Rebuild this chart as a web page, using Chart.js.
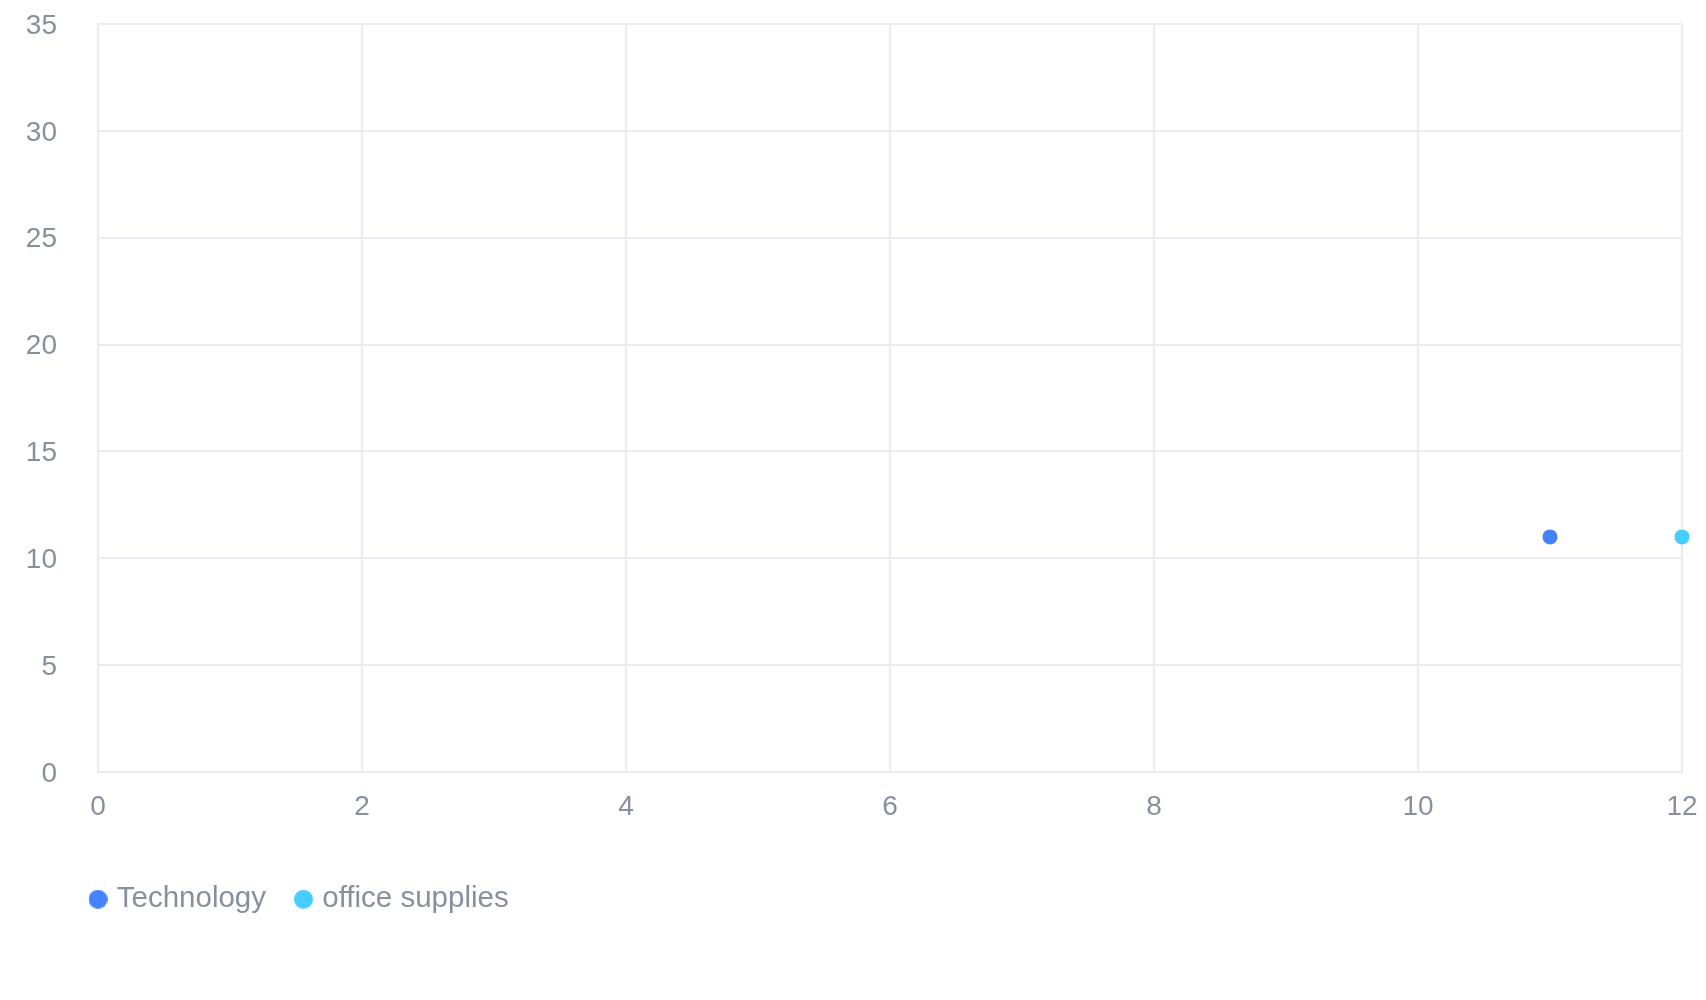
<!DOCTYPE html>
<html>
<head>
<meta charset="utf-8">
<title>Scatter</title>
<script src="https://cdn.jsdelivr.net/npm/chart.js@4/dist/chart.umd.min.js"></script>
<style>
    html, body { margin: 0; padding: 0; background: #ffffff; }
    #wrap { width: 1706px; height: 1000px; position: relative; }
</style>
</head>
<body>
<div id="wrap"><canvas id="scatterChart"></canvas></div>
<script>
// Series: [x, y] pairs
const seriesNames = ["Technology", "office supplies"];
const seriesColors = ["#4582FF", "#47CDFF"];
const technologyX = [11];
const technologyY = [11];
const officeX = [12];
const officeY = [11];

// Axis ranges / ticks
const xTicks = [0, 2, 4, 6, 8, 10, 12];
const yTicks = [0, 5, 10, 15, 20, 25, 30, 35];

const labelColor = "#89909D";
const gridColor = "#EBECF1";
const fontFamily = "'Liberation Sans', Arial, sans-serif";

function toPoints(xs, ys) {
    return xs.map((x, i) => ({ x: x, y: ys[i] }));
}

// Small round legend markers (drawn tighter to the text than the default box)
function dotCanvas(color) {
    const c = document.createElement("canvas");
    c.width = 19;
    c.height = 19;
    const g = c.getContext("2d");
    g.fillStyle = color;
    g.beginPath();
    g.arc(9.5, 9.5, 9.5, 0, Math.PI * 2);
    g.fill();
    return c;
}
const legendDots = seriesColors.map(dotCanvas);

// Legend sits in line with the plot's left edge, not the canvas edge
const legendShift = {
    id: "legendShift",
    afterLayout(chart) {
        if (chart.legend) {
            chart.legend.left += 60.5;
        }
    }
};

const ctx = document.getElementById("scatterChart").getContext("2d");
new Chart(ctx, {
    type: "scatter",
    data: {
        datasets: [
            {
                label: seriesNames[0],
                data: toPoints(technologyX, technologyY),
                backgroundColor: seriesColors[0],
                borderColor: seriesColors[0],
                borderWidth: 0,
                pointRadius: 7.5,
                pointHoverRadius: 7.5
            },
            {
                label: seriesNames[1],
                data: toPoints(officeX, officeY),
                backgroundColor: seriesColors[1],
                borderColor: seriesColors[1],
                borderWidth: 0,
                pointRadius: 7.5,
                pointHoverRadius: 7.5
            }
        ]
    },
    plugins: [legendShift],
    options: {
        responsive: true,
        maintainAspectRatio: false,
        animation: false,
        clip: false,
        layout: {
            padding: { top: 24, right: 24, bottom: 76, left: 0 }
        },
        plugins: {
            tooltip: { enabled: false },
            legend: {
                display: true,
                position: "bottom",
                align: "start",
                labels: {
                    usePointStyle: true,
                    pointStyleWidth: 8,
                    boxHeight: 13.4,
                    padding: 33.5,
                    color: labelColor,
                    font: { family: fontFamily, size: 29.5 },
                    generateLabels(chart) {
                        const items = Chart.defaults.plugins.legend.labels.generateLabels(chart);
                        items.forEach((item, i) => { item.pointStyle = legendDots[i]; });
                        return items;
                    }
                }
            }
        },
        scales: {
            x: {
                type: "linear",
                min: xTicks[0],
                max: xTicks[xTicks.length - 1],
                afterBuildTicks: (scale) => { scale.ticks = xTicks.map(v => ({ value: v })); },
                afterFit: (scale) => { scale.height = 79; },
                grid: { color: gridColor, lineWidth: 2, drawTicks: true, tickLength: 18, tickColor: "rgba(0,0,0,0)" },
                border: { color: gridColor, width: 2 },
                ticks: {
                    padding: 0,
                    color: labelColor,
                    font: { family: fontFamily, size: 28 }
                }
            },
            y: {
                type: "linear",
                min: yTicks[0],
                max: yTicks[yTicks.length - 1],
                afterBuildTicks: (scale) => { scale.ticks = yTicks.map(v => ({ value: v })); },
                afterFit: (scale) => { scale.width = 98; },
                grid: { color: gridColor, lineWidth: 2, drawTicks: true, tickLength: 41, tickColor: "rgba(0,0,0,0)" },
                border: { color: gridColor, width: 2 },
                ticks: {
                    padding: 0,
                    labelOffset: 2,
                    color: labelColor,
                    font: { family: fontFamily, size: 28 }
                }
            }
        }
    }
});
</script>
</body>
</html>
